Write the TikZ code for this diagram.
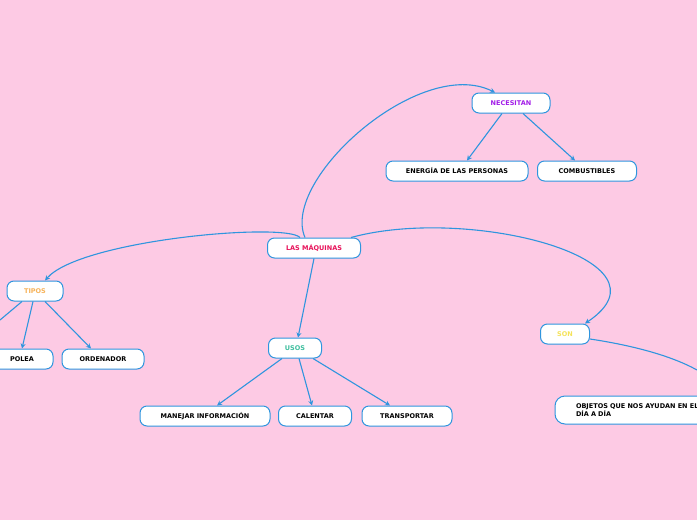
\documentclass[tikz,border=0pt]{standalone}
\usepackage{fontspec}
\setmainfont{DejaVu Sans}
\usetikzlibrary{arrows.meta}
\definecolor{bg}{HTML}{FDCAE4}
\definecolor{ln}{HTML}{2F95DE}
\definecolor{cnec}{HTML}{A21CE8}
\definecolor{cmaq}{HTML}{E8125A}
\definecolor{ctip}{HTML}{F7B35A}
\definecolor{cuso}{HTML}{3FBF9F}
\definecolor{cson}{HTML}{F5E35A}
\begin{document}
\begin{tikzpicture}[x=1pt,y=-1pt,
 box/.style={draw=ln,line width=1pt,fill=white,rounded corners=7pt,minimum height=20pt,inner sep=0pt,font=\fontsize{6.5}{7.5}\selectfont\bfseries},
 arr/.style={draw=ln,line width=1.1pt,-{Stealth[length=5pt,width=5pt]}},
 ln/.style={draw=ln,line width=1.1pt}]
\fill[bg] (0,0) rectangle (697,520);
\useasboundingbox (0,0) rectangle (697,520);
\node[box,minimum width=78pt,text=cnec] (nec) at (511,103) {NECESITAN};
\node[box,minimum width=142pt] (ene) at (457,171) {ENERGÍA DE LAS PERSONAS};
\node[box,minimum width=99pt] (com) at (587,171) {COMBUSTIBLES};
\node[box,minimum width=93pt,text=cmaq] (maq) at (314,248) {LAS MÁQUINAS};
\node[box,minimum width=56pt,text=ctip] (tip) at (35,291) {TIPOS};
\node[box,minimum width=62pt] (pol) at (22,359) {POLEA};
\node[box,minimum width=82pt] (ord) at (103,359) {ORDENADOR};
\node[box,minimum width=53pt,text=cuso] (uso) at (295,348) {USOS};
\node[box,minimum width=130pt] (man) at (205,416) {MANEJAR INFORMACIÓN};
\node[box,minimum width=73pt] (cal) at (315,416) {CALENTAR};
\node[box,minimum width=90pt] (tra) at (407,416) {TRANSPORTAR};
\node[box,minimum width=49pt,text=cson] (son) at (565,334) {SON};
\node[box,minimum height=28pt,rounded corners=10pt,align=left,text width=150pt,inner xsep=21pt] (obj) at (651,410) {OBJETOS QUE NOS AYUDAN EN EL\\DÍA A DÍA};
\coordinate (tl) at (0,320);
\coordinate (sr) at (697,370);
\draw[arr] (maq.north) ++(-9,0) .. controls (280,180) and (420,55) .. ([xshift=-16pt]nec.north);
\draw[arr] (maq.north) ++(-14,0) .. controls (285,222) and (80,240) .. ([xshift=10pt]tip.north);
\draw[arr] (maq.north east) ++(-10,0) .. controls (470,205) and (680,260) .. ([xshift=20pt]son.north);
\draw[arr] (nec.south) ++(-9,0) -- ([xshift=10pt]ene.north);
\draw[arr] (nec.south) ++(12,0) -- ([xshift=-12pt]com.north);
\draw[arr] (maq.south) -- ([xshift=3pt]uso.north);
\draw[arr] (tip.south) ++(-2,0) -- (pol.north);
\draw[arr] (tip.south) ++(10,0) -- ([xshift=-12pt]ord.north);
\draw[ln] (tip.south) ++(-13,0) -- (tl);
\draw[arr] (uso.south) ++(-13,0) -- ([xshift=12pt]man.north);
\draw[arr] (uso.south) ++(4,0) -- ([xshift=-3pt]cal.north);
\draw[arr] (uso.south) ++(18,0) -- ([xshift=-17pt]tra.north);
\draw[ln] (son.east) ++(0,5) .. controls (630,345) and (670,355) .. (sr);
\end{tikzpicture}
\end{document}
